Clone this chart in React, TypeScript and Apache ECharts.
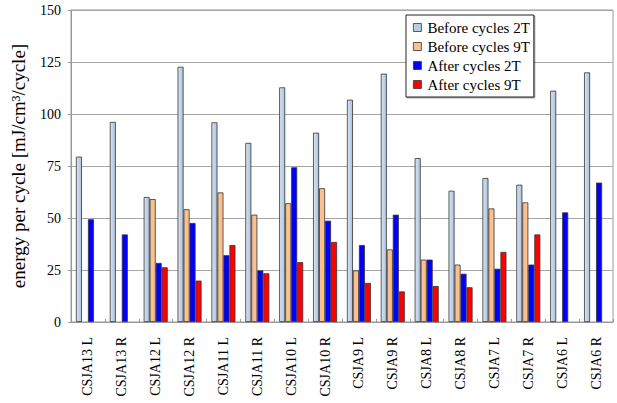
import React, { useEffect, useRef } from "react";
import * as echarts from "echarts";

const categories = [
  "CSJA13 L", "CSJA13 R", "CSJA12 L", "CSJA12 R", "CSJA11 L", "CSJA11 R",
  "CSJA10 L", "CSJA10 R", "CSJA9 L", "CSJA9 R", "CSJA8 L", "CSJA8 R",
  "CSJA7 L", "CSJA7 R", "CSJA6 L", "CSJA6 R",
];
const seriesNames = ["Before cycles 2T", "Before cycles 9T", "After cycles 2T", "After cycles 9T"];
const before2T = [79.5, 96.2, 60.1, 122.7, 96.0, 86.1, 112.8, 91.0, 106.9, 119.4, 78.8, 63.1, 69.2, 66.0, 111.2, 120.0];
const before9T = [null, null, 59.1, 54.2, 62.3, 51.6, 57.1, 64.3, 24.8, 34.9, 30.0, 27.6, 54.6, 57.5, null, null];
const after2T = [49.4, 42.1, 28.4, 47.6, 32.1, 24.8, 74.4, 48.7, 37.0, 51.6, 30.0, 23.2, 25.6, 27.6, 52.7, 67.0];
const after9T = [null, null, 26.3, 19.9, 37.0, 23.4, 28.8, 38.5, 18.8, 14.7, 17.3, 16.7, 33.7, 42.1, null, null];
const yTicks = { min: 0, max: 150, interval: 25 };
const colors = ["#B9CDE5", "#FAC090", "#0000FF", "#FF0000"];

export default function App() {
  const ref = useRef<HTMLDivElement>(null);
  useEffect(() => {
    document.body.style.margin = "0";
    if (!ref.current) return;
    const chart = echarts.init(ref.current, null, { renderer: "svg" });
    const font = "Liberation Serif";
    const dataSets = [before2T, before9T, after2T, after9T];
    const lightBlue = new echarts.graphic.LinearGradient(0, 0, 1, 0, [
      { offset: 0, color: "#e4edf7" },
      { offset: 0.35, color: "#c6d7eb" },
      { offset: 1, color: "#abc2df" },
    ]);
    chart.setOption({
      animation: false,
      backgroundColor: "#fff",
      textStyle: { fontFamily: font },
      grid: { left: 71, right: 4, top: 10, bottom: 81, show: true, borderColor: "#999", borderWidth: 1 },
      legend: {
        orient: "vertical",
        left: 406,
        top: 15,
        padding: [5, 4, 5, 7],
        itemGap: 4,
        itemWidth: 8,
        itemHeight: 8,
        icon: "rect",
        backgroundColor: "#fff",
        borderColor: "#222",
        borderWidth: 1,
        shadowColor: "rgba(0,0,0,0.35)",
        shadowOffsetX: 1,
        shadowOffsetY: 1,
        shadowBlur: 1,
        textStyle: { fontFamily: font, fontSize: 15, color: "#000", padding: [0, 0, 0, 1] },
        data: seriesNames.map((name, i) => ({ name, itemStyle: { color: colors[i], borderColor: "#333", borderWidth: 0.8 } })),
      },
      xAxis: {
        type: "category",
        data: categories,
        axisLine: { lineStyle: { color: "#999" } },
        axisTick: { show: true, inside: true, length: 3, lineStyle: { color: "#999" } },
        axisLabel: { rotate: 90, interval: 0, margin: 15, fontSize: 14, color: "#000", fontFamily: font },
      },
      yAxis: {
        type: "value",
        min: yTicks.min,
        max: yTicks.max,
        interval: yTicks.interval,
        name: "energy per cycle [mJ/cm³/cycle]",
        nameLocation: "middle",
        nameGap: 43,
        nameTextStyle: { fontSize: 19, color: "#000", fontFamily: font },
        axisLine: { show: true, lineStyle: { color: "#999" } },
        axisTick: { show: true, length: 3, lineStyle: { color: "#999" } },
        axisLabel: { fontSize: 14, color: "#000", margin: 10, fontFamily: font },
        splitLine: { lineStyle: { color: "#a6a6a6", width: 1 } },
      },
      series: seriesNames.map((name, i) => ({
        name,
        type: "bar",
        data: dataSets[i],
        barWidth: 6,
        barGap: "0%",
        itemStyle: { color: i === 0 ? lightBlue : colors[i], borderColor: "#333", borderWidth: 0.8 },
      })),
    });
    return () => chart.dispose();
  }, []);
  return <div ref={ref} style={{ width: 617, height: 403 }} />;
}
